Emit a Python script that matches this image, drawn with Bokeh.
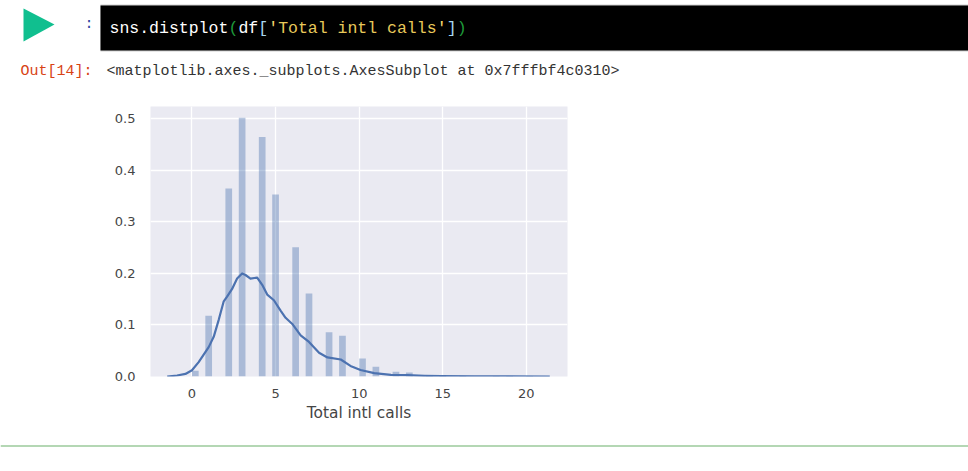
from bokeh.plotting import figure
from bokeh.layouts import column
from bokeh.models import Range1d, FixedTicker, Label, NumeralTickFormatter
from bokeh.embed import file_html
from bokeh.resources import INLINE

# Histogram data
bin_left = [0.0, 0.8, 2.0, 2.8, 4.0, 4.8, 6.0, 6.8, 8.0, 8.8, 10.0, 10.8, 12.0, 12.8, 14.0, 14.8, 16.0, 18.0, 18.8, 20.0]
bin_right = [0.4, 1.2, 2.4, 3.2, 4.4, 5.2, 6.4, 7.2, 8.4, 9.2, 10.4, 11.2, 12.4, 13.2, 14.4, 15.2, 16.4, 18.4, 19.2, 20.4]
density = [0.011, 0.118, 0.365, 0.502, 0.465, 0.353, 0.251, 0.161, 0.086, 0.079, 0.035, 0.019, 0.009, 0.008, 0.002, 0.002, 0.001, 0.001, 0.001, 0.001]

# KDE curve
kde_x = [-1.48, -0.89, -0.39, 0.0, 0.4, 1.0, 1.3, 1.6, 1.9, 2.1, 2.4, 2.7, 3.0, 3.2, 3.5, 3.9, 4.2, 4.5, 4.9, 5.3, 5.6, 6.0, 6.5, 7.0, 7.6, 8.1, 8.9, 9.48, 10.08, 10.9, 11.9, 12.9, 13.9, 14.9, 16.9, 21.4]
kde_y = [0.0, 0.002, 0.005, 0.012, 0.028, 0.057, 0.077, 0.11, 0.146, 0.155, 0.17, 0.19, 0.2, 0.197, 0.19, 0.192, 0.178, 0.159, 0.148, 0.128, 0.114, 0.102, 0.08, 0.067, 0.046, 0.037, 0.033, 0.0205, 0.0126, 0.0066, 0.0033, 0.0026, 0.0013, 0.0007, 0.0003, 0.0]

x_ticks = [0, 5, 10, 15, 20]
y_ticks = [0.0, 0.1, 0.2, 0.3, 0.4, 0.5]
x_label = "Total intl calls"

code_parts = [("sns.distplot", "#ffffff"), ("(", "#1f9a3a"), ("df", "#ffffff"), ("[", "#a8d8f0"), ("'", "#f5d76e"),
              ("Total intl calls", "#e8c95a"), ("'", "#f5d76e"), ("]", "#a8d8f0"), (")", "#1f9a3a")]
out_prompt = "Out[14]:"
out_text = "<matplotlib.axes._subplots.AxesSubplot at 0x7fffbf4c0310>"

MONO = "Liberation Mono"
W = 968


def page_strip(height, top):
    f = figure(width=W, height=height, x_range=Range1d(0, W), y_range=Range1d(top + height, top),
               output_backend="svg", toolbar_location=None, min_border=0, margin=(0, 0, 0, 0), frame_align=False)
    f.axis.visible = False
    f.grid.visible = False
    f.outline_line_color = None
    return f


def page_text(f, x, y, s, color, size):
    f.add_layout(Label(x=x, y=y, text=s, text_font=MONO, text_font_size=size, text_color=color,
                       text_align="left", text_baseline="middle"))


# Notebook header
head = page_strip(100, 0)
head.quad(left=[100], right=[W], top=[4], bottom=[51], fill_color="#d0d0d0", line_color=None)
head.quad(left=[100], right=[W], top=[5], bottom=[50], fill_color="#000000", line_color=None)
head.patch([23, 23, 54], [8, 41, 24], fill_color="#10bf8f", line_color=None)
page_text(head, 84, 24, ":", "#303f9f", "15px")
cursor = 109.0
CHAR = 9.92
for s, c in code_parts:
    page_text(head, cursor, 28, s, c, "16.5px")
    cursor += CHAR * len(s)
page_text(head, 20, 71, out_prompt, "#d84315", "15px")
page_text(head, 106, 71, out_text, "#333333", "15px")

# Chart
p = figure(width=W, height=330, x_range=Range1d(-2.48, 22.46), y_range=Range1d(0, 0.524),
           output_backend="svg", toolbar_location=None, margin=(0, 0, 0, 0), frame_align=False,
           min_border_left=150, min_border_right=401, min_border_top=6, min_border_bottom=54)
p.background_fill_color = "#eaeaf2"
p.outline_line_color = None
p.grid.grid_line_color = "#ffffff"
p.grid.grid_line_width = 1.3
p.xaxis.ticker = FixedTicker(ticks=x_ticks)
p.yaxis.ticker = FixedTicker(ticks=y_ticks)
p.yaxis.formatter = NumeralTickFormatter(format="0.0")
p.xaxis.axis_label = x_label
p.axis.axis_line_color = None
p.axis.major_tick_line_color = None
p.axis.minor_tick_line_color = None
p.axis.major_label_text_color = "#454545"
p.axis.major_label_text_font = "DejaVu Sans"
p.axis.major_label_text_font_size = "13px"
p.xaxis.axis_label_text_color = "#454545"
p.xaxis.axis_label_text_font = "DejaVu Sans"
p.xaxis.axis_label_text_font_size = "15.4px"
p.xaxis.axis_label_text_font_style = "normal"
p.xaxis.major_label_standoff = 6
p.yaxis.major_label_standoff = 9
p.xaxis.axis_label_standoff = 3

p.quad(left=bin_left, right=bin_right, bottom=0, top=density, fill_color="#4c72b0", fill_alpha=0.4, line_color=None)
p.line(kde_x, kde_y, line_color="#4c72b0", line_width=2.2, line_join="round")

# Footer rule
foot = page_strip(41, 430)
foot.line([0, W], [445.5, 445.5], line_color="#6ab06a", line_width=1.2)

page = column(head, p, foot, spacing=0)

open("out.html", "w").write(file_html(page, INLINE))
